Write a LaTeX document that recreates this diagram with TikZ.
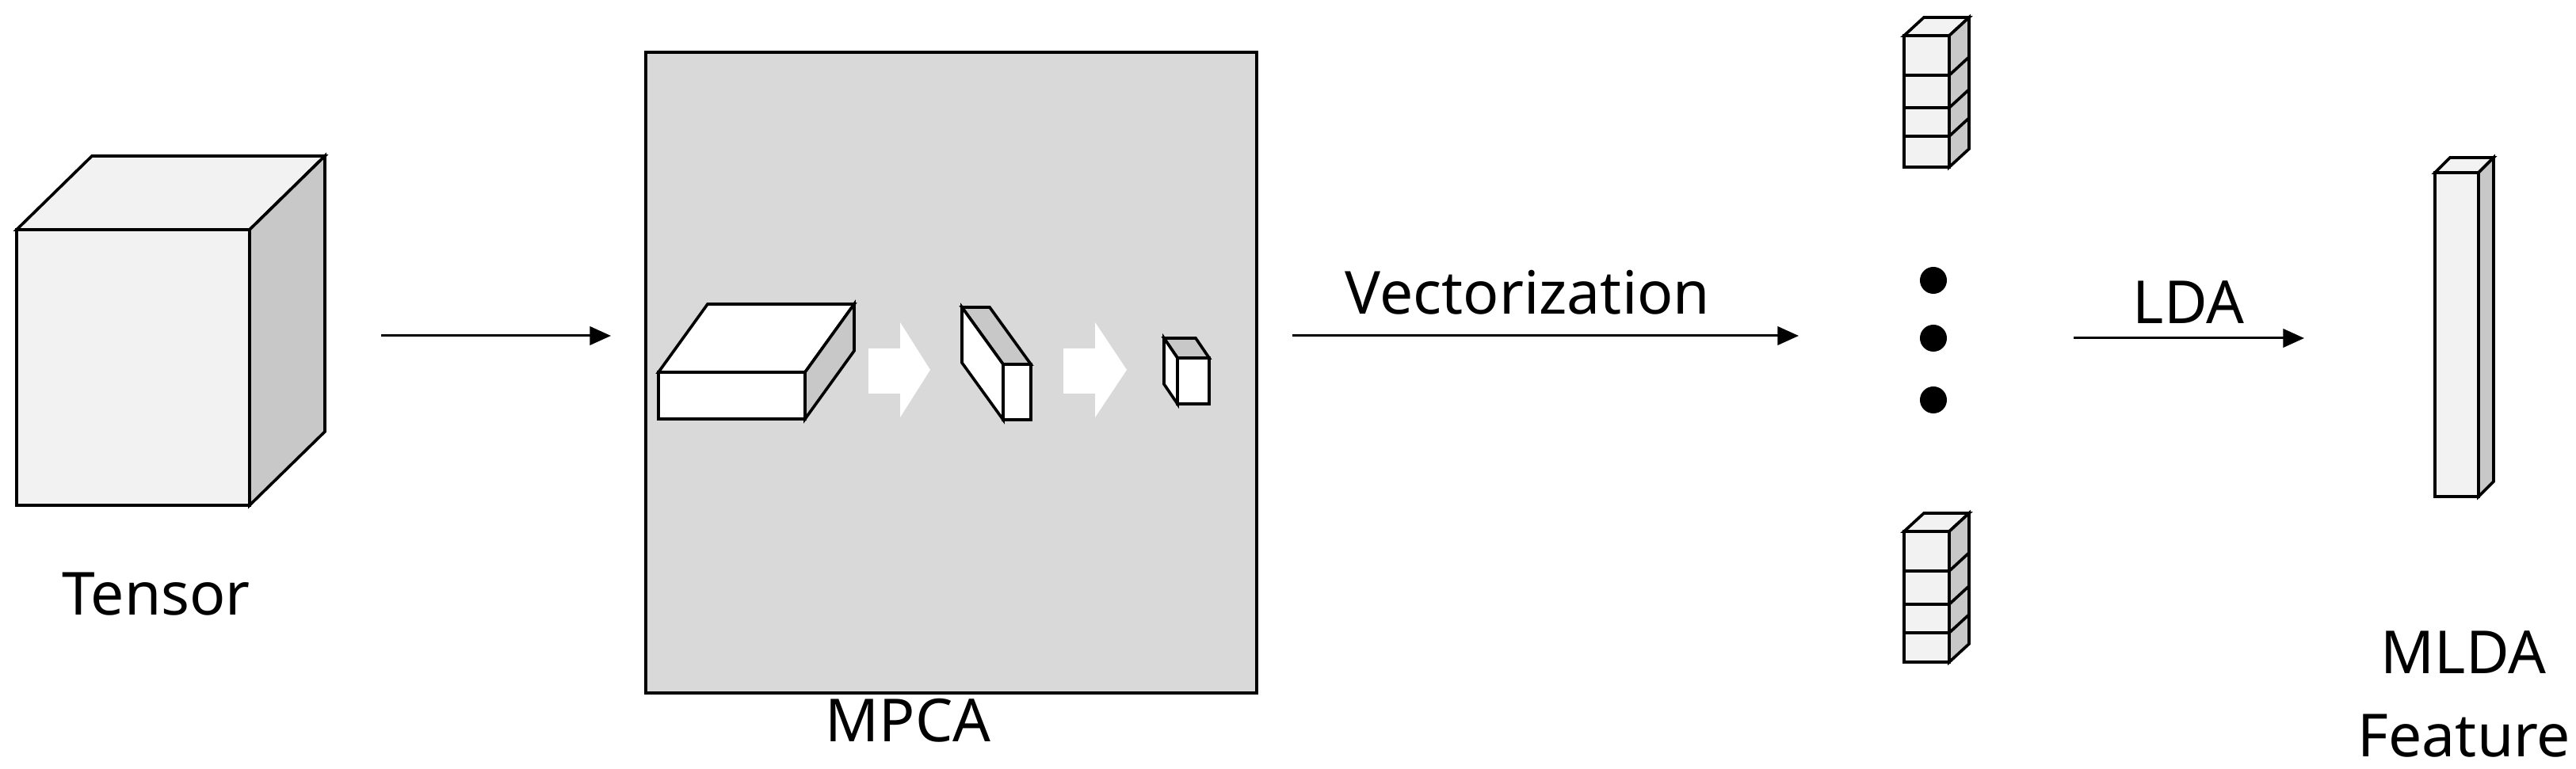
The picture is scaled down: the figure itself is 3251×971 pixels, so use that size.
\documentclass[tikz,border=0pt]{standalone}
\usepackage{fontspec}
\setmainfont{Noto Sans}
\usetikzlibrary{arrows.meta}
\definecolor{lg}{HTML}{F2F2F2}
\definecolor{sg}{HTML}{C8C8C8}
\definecolor{bg}{HTML}{D9D9D9}
\tikzset{
  face/.style={draw=black,line width=1.1pt,line join=miter},
  conn/.style={line width=0.9pt,-{Triangle[length=8pt,width=7pt]}},
  lbl/.style={font=\fontsize{22.5}{27}\selectfont,inner sep=0pt},
  warrow/.style={fill=white,draw=none},
}
% cuboid with depth to the upper right: x1 y1 x2 y2 dx dy front side top
\newcommand\cubR[9]{%
  \fill[#7] (#1,#2) rectangle (#3,#4);
  \filldraw[face,fill=#9] (#1,#2) -- (#1+#5,#2+#6) -- (#3+#5,#2+#6) -- (#3,#2) -- cycle;
  \filldraw[face,fill=#8] (#3,#2) -- (#3+#5,#2+#6) -- (#3+#5,#4+#6) -- (#3,#4) -- cycle;
  \draw[face] (#1,#2) rectangle (#3,#4);}
% cuboid with depth to the upper left
\newcommand\cubL[9]{%
  \fill[#7] (#1,#2) rectangle (#3,#4);
  \filldraw[face,fill=#9] (#1,#2) -- (#1+#5,#2+#6) -- (#3+#5,#2+#6) -- (#3,#2) -- cycle;
  \filldraw[face,fill=#8] (#1,#2) -- (#1+#5,#2+#6) -- (#1+#5,#4+#6) -- (#1,#4) -- cycle;
  \draw[face] (#1,#2) rectangle (#3,#4);}
\begin{document}
\begin{tikzpicture}[x=0.3pt,y=-0.3pt]
\useasboundingbox (0,0) rectangle (3251,971);
% Tensor
\cubR{21}{290}{315}{638}{95}{-93}{lg}{sg}{lg}
\node[lbl] (tensor) at (197,750) {Tensor};
% MPCA box
\filldraw[fill=bg,draw=black,line width=1.3pt] (815,66) rectangle (1586,875);
\node[lbl] (mpca) at (1146,910) {MPCA};
\cubR{831}{470}{1016}{529}{62}{-86}{white}{sg}{white}
\fill[warrow] (1096,440) -- (1136,440) -- (1136,407) -- (1174,467) -- (1136,527) -- (1136,497) -- (1096,497) -- cycle;
\cubL{1266}{460}{1301}{530}{-52}{-72}{white}{white}{sg}
\fill[warrow] (1342,440) -- (1382,440) -- (1382,407) -- (1422,467) -- (1382,527) -- (1382,497) -- (1342,497) -- cycle;
\cubL{1486}{452}{1526}{510}{-17}{-25}{white}{white}{sg}
% arrows
\coordinate (a1s) at (481,424); \coordinate (a1e) at (771,424);
\draw[conn] (a1s) -- (a1e);
\coordinate (a2s) at (1631,424); \coordinate (a2e) at (2270,424);
\draw[conn] (a2s) -- (a2e);
\node[lbl] (vec) at (1928,369) {Vectorization};
\coordinate (a3s) at (2617,427); \coordinate (a3e) at (2908,427);
\draw[conn] (a3s) -- (a3e);
\node[lbl] (lda) at (2762,382) {LDA};
% vector stacks
\foreach \ya/\yb/\yc/\yd/\ye in {45/95/136/172/211, 671/721/763/799/836}{
  \cubR{2403}{\ya}{2460}{\ye}{25}{-23}{lg}{sg}{lg}
  \foreach \yy in {\yb,\yc,\yd}{
    \draw[face] (2403,\yy) -- (2460,\yy) -- (2485,\yy-23);}
}
% dots
\foreach \yy in {354,427,505}{
  \fill (2440,\yy) circle (17);}
% MLDA bar
\cubR{3073}{218}{3128}{627}{19}{-19}{lg}{sg}{lg}
\node[lbl] (mlda) at (3109,824) {MLDA};
\node[lbl,anchor=west] (feat) at (2975,929) {Feature};
\end{tikzpicture}
\end{document}
